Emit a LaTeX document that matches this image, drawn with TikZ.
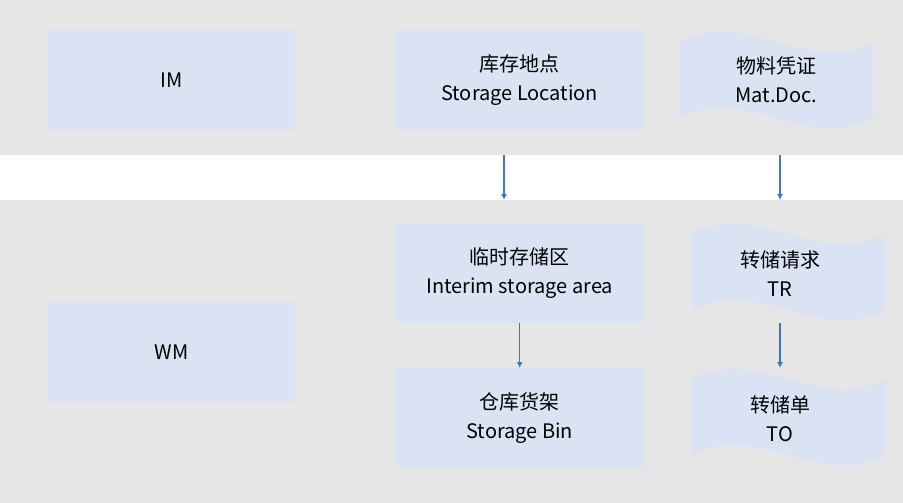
\documentclass[tikz,border=0pt]{standalone}
\usepackage{fontspec}
\setmainfont{Noto Sans CJK SC}
\begin{document}
\begin{tikzpicture}[x=1pt,y=-1pt,
  box/.style={fill=boxc,draw=none,minimum width=247pt,minimum height=100pt,anchor=north west,inner sep=0pt},
  lbl/.style={align=center,font=\fontsize{20}{29}\selectfont,text=black},
  arr/.style={draw=arrc,line width=1.2pt,-{Latex[length=6pt,width=6pt]}}]
\usetikzlibrary{arrows.meta}
\definecolor{bg}{HTML}{E7E6E6}
\definecolor{boxc}{HTML}{DAE3F3}
\definecolor{arrc}{HTML}{4472C4}
\fill[bg] (0,0) rectangle (903,503);
\fill[white] (0,155) rectangle (903,200);
\useasboundingbox (0,0) rectangle (903,503);
\newcommand{\wavebox}[5]{% x0 ytop w h name
  \fill[boxc] (#1,#2) .. controls (#1+0.33*#3,#2-35) and (#1+0.67*#3,#2+35) .. (#1+#3,#2)
    -- (#1+#3,#2+#4) .. controls (#1+0.67*#3,#2+#4+35) and (#1+0.33*#3,#2+#4-35) .. (#1,#2+#4) -- cycle;
  \coordinate (#5) at (#1+0.5*#3,#2+0.5*#4);
}
\node[box] (im) at (48,30) {};
\node[lbl] at (im.center) {IM};
\node[box] (sl) at (396,30) {};
\node[lbl] at (sl.center) {库存地点\\Storage Location};
\wavebox{680}{42}{193}{76}{md}
\node[lbl] at (md) {物料凭证\\Mat.Doc.};
\node[box] (wm) at (48,302) {};
\node[lbl] at (wm.center) {WM};
\node[box] (ia) at (396,223) {};
\node[lbl] at (ia.center) {临时存储区\\Interim storage area};
\node[box] (sb) at (396,368) {};
\node[lbl] at (sb.center) {仓库货架\\Storage Bin};
\wavebox{692}{234}{193}{76}{tr}
\node[lbl] at (780,274) {转储请求\\TR};
\wavebox{692}{379}{193}{76}{to}
\node[lbl] at (780,419) {转储单\\TO};
\coordinate (a1) at (504,155); \coordinate (a2) at (504,200);
\coordinate (b1) at (780,155); \coordinate (b2) at (780,200);
\coordinate (c1) at (780,323); \coordinate (c2) at (780,368);
\draw[arr] (a1) -- (a2);
\draw[arr] (b1) -- (b2);
\draw[arr] (ia.south) -- (sb.north);
\draw[arr] (c1) -- (c2);
\end{tikzpicture}
\end{document}
